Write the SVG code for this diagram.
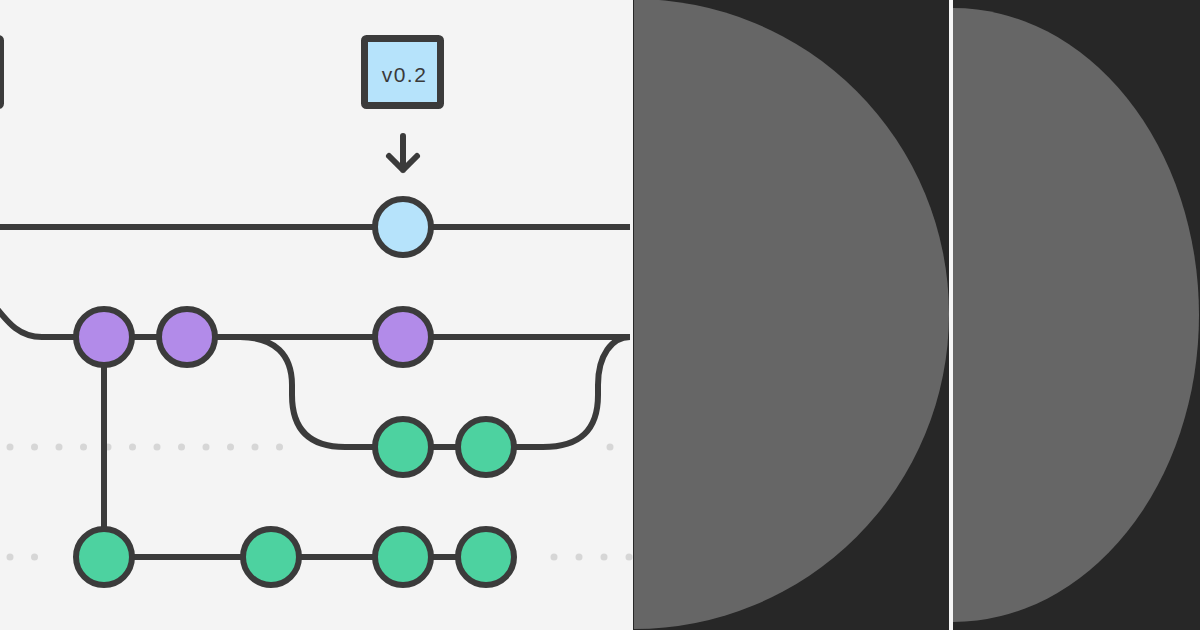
<svg xmlns="http://www.w3.org/2000/svg" width="1200" height="630" viewBox="0 0 1200 630">
<defs>
<style>
.ln{fill:none;stroke:#3b3b3b;stroke-width:6;stroke-linecap:butt;stroke-linejoin:round}
.rc{stroke-linecap:round}
.node{stroke:#3b3b3b;stroke-width:6}
.blue{fill:#b6e3fb}
.purple{fill:#b28be9}
.green{fill:#4dd2a0}
.dot{fill:#d6d6d6}
.tag{stroke:#3b3b3b;stroke-width:7;fill:#b6e3fb}
.lbl{font-family:"Liberation Sans",Arial,sans-serif;font-size:21px;fill:#3a3a3a;letter-spacing:1.5px}
</style>
</defs>
<rect x="0" y="0" width="633" height="630" fill="#f4f4f4"/>
<g id="dots">
<circle class="dot" cx="10" cy="447" r="3.5"/><circle class="dot" cx="34.5" cy="447" r="3.5"/><circle class="dot" cx="59" cy="447" r="3.5"/><circle class="dot" cx="83.5" cy="447" r="3.5"/><circle class="dot" cx="108" cy="447" r="3.5"/><circle class="dot" cx="132.5" cy="447" r="3.5"/><circle class="dot" cx="157" cy="447" r="3.5"/><circle class="dot" cx="181.5" cy="447" r="3.5"/><circle class="dot" cx="206" cy="447" r="3.5"/><circle class="dot" cx="230.5" cy="447" r="3.5"/><circle class="dot" cx="255" cy="447" r="3.5"/><circle class="dot" cx="279.5" cy="447" r="3.5"/><circle class="dot" cx="610" cy="447" r="3.5"/>
<circle class="dot" cx="10" cy="557" r="3.5"/><circle class="dot" cx="34.5" cy="557" r="3.5"/><circle class="dot" cx="554" cy="557" r="3.5"/><circle class="dot" cx="579" cy="557" r="3.5"/><circle class="dot" cx="604" cy="557" r="3.5"/><circle class="dot" cx="629" cy="557" r="3.5"/>
</g>
<g id="connectors">
<path class="ln" d="M0 227 H630"/>
<path class="ln" d="M-25 285 C0 305 8 337 42 337 H630"/>
<path class="ln" d="M240 337 C275 337 292 355 292 385 L292 395 C292 430 310 447 345 447 H543 C580 447 598 430 598 395 L598 385 C598 355 612 337 630 337"/>
<path class="ln" d="M104 337 V557 H486"/>
<path class="ln rc" d="M403 136 V170 M389 156 L403 170 L417 156"/>
</g>
<g id="tag-left"><rect class="tag" x="-73" y="38.5" width="73.5" height="67" rx="2"/></g>
<g id="tag-v02"><rect class="tag" x="364.5" y="38.5" width="76" height="67" rx="2"/><text class="lbl" x="404.5" y="82" text-anchor="middle">v0.2</text></g>
<g id="c-main"><circle class="node blue" cx="403" cy="227" r="28"/></g>
<g id="p1"><circle class="node purple" cx="104" cy="337" r="28"/></g>
<g id="p2"><circle class="node purple" cx="187" cy="337" r="28"/></g>
<g id="p3"><circle class="node purple" cx="403" cy="337" r="28"/></g>
<g id="g1"><circle class="node green" cx="403" cy="447" r="28"/></g>
<g id="g2"><circle class="node green" cx="486" cy="447" r="28"/></g>
<g id="g3"><circle class="node green" cx="104" cy="557" r="28"/></g>
<g id="g4"><circle class="node green" cx="271" cy="557" r="28"/></g>
<g id="g5"><circle class="node green" cx="403" cy="557" r="28"/></g>
<g id="g6"><circle class="node green" cx="486" cy="557" r="28"/></g>
<g id="right-panel">
<rect x="633" y="0" width="567" height="630" fill="#272727"/>
<path d="M634 -1 A315 315 0 0 1 634 629 Z" fill="#666666"/>
<rect x="949" y="0" width="4" height="630" fill="#f6f6f6"/>
<path d="M953 8 A246 307 0 0 1 953 622 Z" fill="#666666"/>
</g>
</svg>
